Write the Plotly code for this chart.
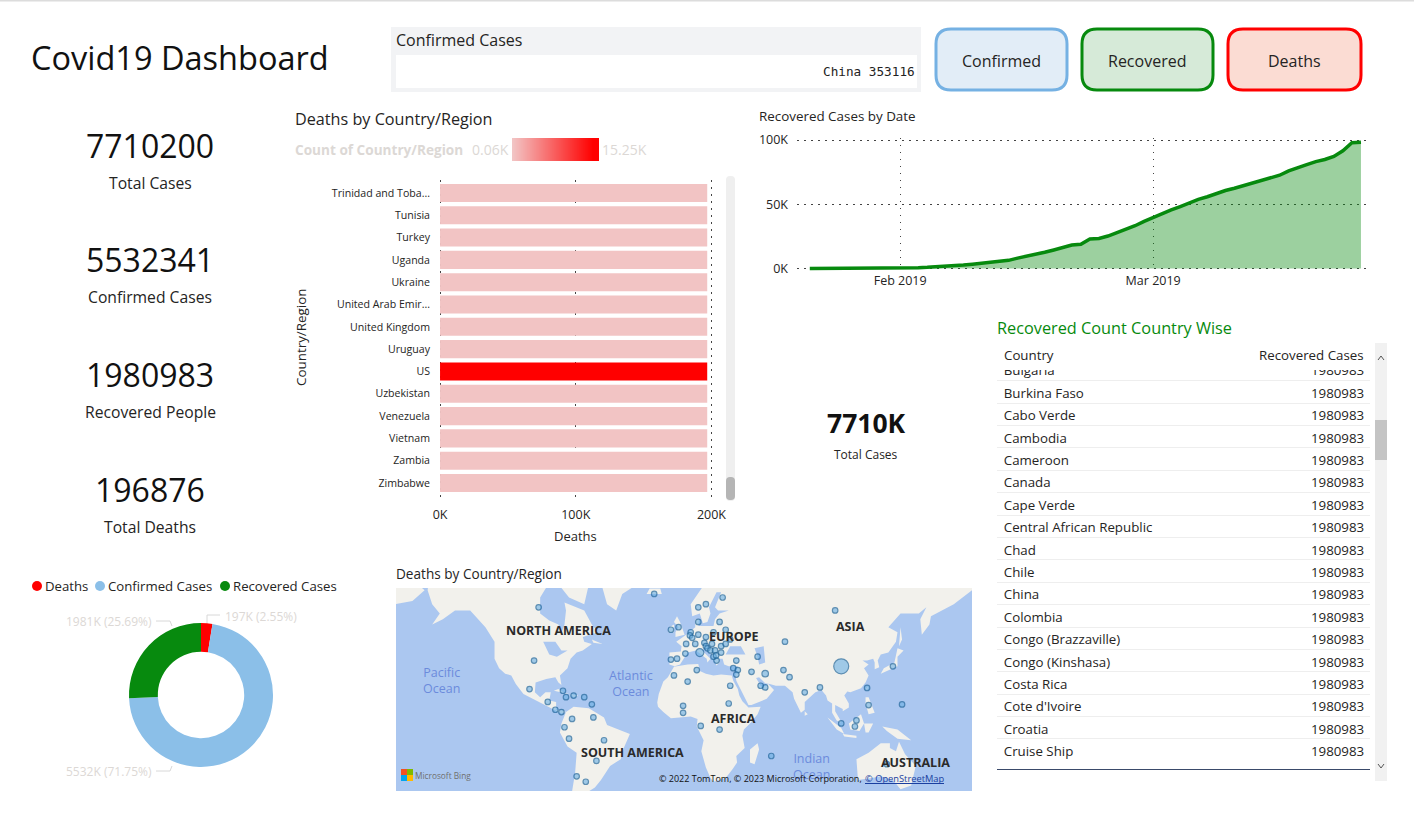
import numpy as np
import plotly.graph_objects as go

W, H = 1414, 816
FONT = "Open Sans"
DARK = "#252423"
FAINT = "#dcd8d5"

# ---------- data ----------
kpi_values = ["7710200", "5532341", "1980983", "196876"]
kpi_labels = ["Total Cases", "Confirmed Cases", "Recovered People", "Total Deaths"]

bar_countries = ["Trinidad and Toba...", "Tunisia", "Turkey", "Uganda", "Ukraine", "United Arab Emir...",
                 "United Kingdom", "Uruguay", "US", "Uzbekistan", "Venezuela", "Vietnam", "Zambia", "Zimbabwe"]
bar_deaths = [196876] * 14
highlight_country = "US"
legend_range = [0.06, 15.25]

rec_jan = [28, 30, 36, 39, 52, 61, 107, 126, 143, 222]
rec_feb = [284, 472, 623, 852, 1124, 1487, 2011, 2616, 3244, 3946, 4683, 5150, 6295, 8058, 9395, 10865,
           12583, 14352, 16121, 18177, 18890, 22886, 23394, 25227, 27905, 30384, 33277, 36711]
rec_mar = [39782, 42716, 45602, 48228, 51170, 53796, 55865, 58358, 60694, 62494, 64404, 67003,
           68324, 70251, 72624, 76034, 78088, 80840, 83207, 84854, 87256, 91675, 97882, 98351]
rec_dates = ([f"2019-01-{d:02d}" for d in range(22, 32)] + [f"2019-02-{d:02d}" for d in range(1, 29)]
             + [f"2019-03-{d:02d}" for d in range(1, 25)])
rec_values = rec_jan + rec_feb + rec_mar

pie_labels = ["Deaths", "Confirmed Cases", "Recovered Cases"]
pie_values = [196876, 5532341, 1980983]
pie_colors = ["#ff0000", "#8bbfe8", "#078a0e"]

table_countries = ["Bulgaria", "Burkina Faso", "Cabo Verde", "Cambodia", "Cameroon", "Canada", "Cape Verde",
                   "Central African Republic", "Chad", "Chile", "China", "Colombia", "Congo (Brazzaville)",
                   "Congo (Kinshasa)", "Costa Rica", "Cote d'Ivoire", "Croatia", "Cruise Ship"]
table_recovered = [1980983] * 18

map_lon = [-19, 10, 15, 26, 10, 24, -8, -3, 5, 4.5, 6, 10, 20, 15, 14, 19, 8, 2, 11, 15, 16, 18, 21, 25, 25, 31,
           28, 28, 22, 20, 21.7, -4, -8, 1.5, -6, 9, 3, 35, 49, 33, 36, 35, 45, 54, 31, 54, 51, 66, 70, 67, 100,
           80, 90, 121, 122, 144, 138, 104, 114, 113, 58, 134, 30, 0, 0, 11.6, 24, -101, -89, -79, -77, -72, -65,
           -60, -84, -80, -73, -59, -78, -75, -52, -57, -70, -64, -98, -95, 104]
map_lat = [65, 61, 62, 64, 56, 56, 53, 54, 52, 50.7, 49.7, 51, 52, 50, 47.5, 47, 47, 47, 43, 46, 45, 44, 44, 46,
           43, 49, 47, 53, 39, 41, 41.6, 40, 39.5, 42.5, 31, 34, 27.5, 39, 41, 35, 34, 31.5, 33, 32, 25, 24, 25,
           34, 30, 48, 60, 21, 24, 23.7, 13, 13.4, 36, 1, 3, -1, -20, -25, 14, 12.5, 8, -0.6, -3, 23, 15, 22, 18,
           19, 18, 13.5, 10, 8.5, 4, 5, -1.5, -9, -10, -23, -32, -35, 39, 61, 36]
map_size = [5.5] * 18 + [8] + [5.5] * 24 + [6.5] + [5.5] * 42 + [15]

land_polygons = [
    # North and Central America
    [(-168, 66), (-166, 72), (-130, 72), (-95, 72), (-88, 68), (-94, 64), (-94, 59), (-88, 56.5), (-82, 55), (-80, 51.5),
     (-78, 55), (-77, 60), (-78, 62.5), (-70, 61), (-65, 60), (-60, 55), (-56, 52), (-66, 50), (-65, 48), (-60, 47),
     (-66, 44), (-70, 43), (-74, 40), (-76, 35), (-81, 31), (-80, 25.5), (-82, 27), (-84, 30), (-90, 29), (-97, 27),
     (-97.5, 21), (-94, 18), (-90.5, 21), (-87, 21), (-88, 16), (-83.5, 15), (-83.5, 10), (-79, 9.5), (-77, 8.5), (-80, 7.5),
     (-85, 10), (-92, 14), (-97, 16), (-105, 20), (-110, 26), (-113, 31), (-117, 32), (-121, 35), (-124, 40), (-124, 48),
     (-130, 54), (-140, 60), (-150, 60), (-158, 57), (-165, 55), (-160, 59), (-165, 62)],
    [(-90, 73), (-62, 67.5), (-65, 62), (-75, 64), (-85, 69)],
    [(-56, 73), (-20, 73), (-24, 69), (-40, 65), (-44, 60), (-50, 62), (-54, 68)],
    [(-60, 49), (-53, 47), (-59, 47.5)],
    # South America
    [(-77, 8.5), (-72, 12), (-62, 11), (-52, 5), (-50, 0), (-44, -2.5), (-35, -6), (-39, -15), (-41, -22), (-48, -26), (-54, -34),
     (-58, -38), (-62, -40), (-66, -46), (-70, -46), (-73, -40), (-71, -30), (-70, -18), (-76, -14), (-81, -5), (-80, 1)],
    # Africa
    [(-17, 14.7), (-16, 20), (-13, 27.5), (-10, 30), (-6, 35.8), (3, 37), (10, 37.3), (11, 33.5), (15, 32), (20, 31), (25, 31.5),
     (32, 31), (33, 28), (36, 23), (37, 19), (39, 15.5), (43, 11.5), (51, 12), (49, 7), (44, 1), (40, -3), (39, -7), (40.5, -15),
     (35, -20), (35.5, -24), (32.5, -28), (28, -33), (20, -35), (18, -33), (15, -27), (12, -17), (13.5, -10), (9, -1), (9.5, 4),
     (5, 5.5), (-4, 5), (-8, 4.5), (-13, 8.5), (-16.5, 12)],
    # Eurasia
    [(190, 72), (190, 66), (178, 62), (170, 60), (163, 58), (162, 55), (157, 51), (156, 57), (160, 61), (155, 59), (143, 59),
     (135, 54), (141, 52), (140, 48), (135, 43), (130, 42), (128, 39), (129, 35.5), (126, 34.5), (126, 38), (125, 40), (121, 39),
     (118, 39), (122, 37), (119, 35), (122, 31), (120, 27), (117, 23.5), (110, 21), (108, 21.5), (106, 19), (109, 14), (109, 11.5),
     (105, 9), (105, 10.5), (100, 13), (100, 9), (103, 4), (104, 1.5), (101, 3), (98, 8), (98, 14), (95, 16), (94, 19), (91, 22.5),
     (87, 21), (80, 15), (80, 10), (77.5, 8), (73, 17), (72, 21), (67, 25), (61, 25), (57, 26), (54, 26.5), (50, 30), (48, 29.5),
     (51, 25), (52, 24), (56, 26), (59.8, 22.5), (55, 17), (45, 13), (43, 13), (39, 21), (35, 28), (34.5, 31), (36, 36), (30, 36),
     (27, 37), (26, 40), (23.5, 40), (24, 38), (22, 36.5), (19.5, 41), (19, 42), (14, 45), (12.5, 44), (18, 40), (16, 38), (15.5, 40),
     (12, 42), (8.5, 44), (3, 43), (0, 39.5), (-2, 37), (-5.5, 36), (-9, 37), (-9, 43), (-1.5, 43.5), (-1, 46), (-4.5, 48), (2, 51),
     (4, 52), (8, 54), (8, 57), (10.5, 57), (10, 54.5), (20, 54.5), (21, 57), (24, 59), (30, 60), (23, 60), (21, 61), (25, 65.5),
     (22, 65.5), (17, 61), (18, 59), (16, 56), (13, 55.5), (11, 59), (6, 58), (5, 62), (13, 67), (15, 68.5), (30, 72)],
    [(-5, 50), (1, 51), (-2, 56), (-4, 58), (-6, 56), (-3, 54), (-5, 52)],
    [(-10, 52), (-6, 52), (-6, 55), (-9, 54)],
    [(-24, 65), (-14, 65), (-15, 66.5), (-22, 66.5)],
    [(130, 32), (136, 34), (141, 36), (141, 41), (145, 44), (141, 45), (139, 38), (132, 35)],
    [(44, -16), (49, -12), (50, -16), (47, -25), (44, -24)],
    [(114, -22), (122, -18), (130, -12), (136, -12), (136, -15), (140, -17), (142, -11), (146, -19), (153, -26), (150, -37),
     (143, -39), (138, -34), (130, -32), (124, -33), (115, -34)],
    [(95, 5), (104, -2), (106, -6), (101, -3)],
    [(109, 1), (117, 7), (119, 1), (116, -4), (110, -3)],
    [(105, -6), (114, -7), (114, -8.5), (106, -7.5)],
    [(119, 1), (125, 1), (122, -5), (120, -5)],
    [(131, -1), (141, -3), (150, -10), (141, -9), (134, -4)],
    [(120, 18), (122, 18), (126, 8), (122, 7), (120, 14)],
    [(-85, 22), (-75, 20), (-77, 20), (-82, 23)],
    [(-74, 20), (-69, 19), (-72, 18)],
    [(80, 9), (82, 7), (80, 6)],
    [(120, 23), (122, 25), (121, 22)],
    [(142, 46), (143, 54), (144, 49)],
    [(-189, 72), (-170, 66), (-178, 63), (-189, 62)],
]
water_polygons = [
    [(28, 42), (31, 46), (38, 46), (41, 42), (34, 42)],
    [(47, 45), (53, 46), (54, 38), (50, 37), (49, 41)],
    [(-92, 48), (-84, 48), (-80, 44), (-76, 44), (-83, 41), (-88, 42)],
]


def merc(lat):
    return np.log(np.tan(np.pi / 4 + np.radians(lat) / 2))


def poly_xy(polys):
    xs, ys = [], []
    for p in polys:
        pts = p + [p[0]]
        xs += [q[0] for q in pts] + [None]
        ys += [float(merc(q[1])) for q in pts] + [None]
    return xs, ys


# ---------- helpers: page pixels to paper fractions ----------
def px(x):
    return x / W


def py(y):
    return 1 - y / H


annotations, shapes = [], []


def text(x, y, s, size=13, color=DARK, anchor="left", family=FONT, **kw):
    nudge = {"left": -1, "right": 1, "center": 0}[anchor]
    annotations.append(dict(x=px(x + nudge), y=py(y), xref="paper", yref="paper", text=s, showarrow=False,
                            xanchor=anchor, yanchor="middle", font=dict(size=size, color=color, family=family),
                            borderpad=0, **kw))


def rect(x0, y0, x1, y1, fill, line=None, lw=0, layer="below"):
    shapes.append(dict(type="rect", xref="paper", yref="paper", x0=px(x0), x1=px(x1), y0=py(y0), y1=py(y1),
                       fillcolor=fill, line=dict(color=line or fill, width=lw), layer=layer))


def rrect(x0, y0, x1, y1, r, fill, line, lw=3, layer="below"):
    a, b, c, d = px(x0), px(x1), py(y0), py(y1)
    rx, ry = r / W, r / H
    path = (f"M{a + rx},{c} L{b - rx},{c} Q{b},{c} {b},{c - ry} L{b},{d + ry} Q{b},{d} {b - rx},{d} "
            f"L{a + rx},{d} Q{a},{d} {a},{d + ry} L{a},{c - ry} Q{a},{c} {a + rx},{c} Z")
    shapes.append(dict(type="path", path=path, xref="paper", yref="paper", fillcolor=fill,
                       line=dict(color=line, width=lw), layer=layer))


def seg(pts, color="#d8d8d8", width=1, layer="below"):
    path = "M" + " L".join(f"{px(x)},{py(y)}" for x, y in pts)
    shapes.append(dict(type="path", path=path, xref="paper", yref="paper", line=dict(color=color, width=width), layer=layer))


def dom_x(a, b):
    return [px(a), px(b)]


def dom_y(top, bottom):
    return [py(bottom), py(top)]


DOT = "1.5px,5.5px"
GRID = "#444444"
fig = go.Figure()

# header
rect(0, 0, W, 1.5, "#dcdcdc")
text(31, 58, "Covid19 Dashboard", size=32.5, color="#111111")
rect(391, 27, 921, 92, "#f2f3f5")
rect(396, 55, 917, 88, "#ffffff")
text(396, 40, "Confirmed Cases", size=16)
text(915, 71, "China 353116", size=12.7, anchor="right", family="DejaVu Sans Mono", color="#222222")
rrect(936, 29, 1067, 90, 15, "#e2edf7", "#75b1e3")
rrect(1082, 29, 1213, 90, 15, "#d6ead8", "#078a0e")
rrect(1228, 29, 1361, 90, 15, "#fbdcd3", "#ff0000")
text(1001, 61, "Confirmed", size=16, anchor="center")
text(1147, 61, "Recovered", size=16, anchor="center")
text(1294, 61, "Deaths", size=16, anchor="center")

# KPIs
for v, l, yv, yl in zip(kpi_values, kpi_labels, [146, 260, 375, 490], [183, 297, 412, 527]):
    text(150, yv - 0.5, v, size=32, color="#111111", anchor="center")
    text(150, yl, l, size=15.7, anchor="center")
text(866, 423, "<b>7710K</b>", size=26.5, color="#111111", anchor="center")
text(866, 454, "Total Cases", size=12, anchor="center")

# horizontal bars
fig.add_trace(go.Bar(y=bar_countries, x=bar_deaths, orientation="h", xaxis="x", yaxis="y", width=0.81, showlegend=False,
                     marker=dict(color=["#ff0000" if c == highlight_country else "#f2c4c4" for c in bar_countries], line=dict(width=0))))
text(295, 119, "Deaths by Country/Region", size=16.2)
text(295, 149, "<b>Count of Country/Region</b>", size=13.6, color=FAINT)
text(509, 149, "0.06K", size=14, color=FAINT, anchor="right")
text(602, 149, "15.25K", size=14, color=FAINT)
fig.add_trace(go.Heatmap(z=[legend_range], xaxis="x5", yaxis="y5", zsmooth="best", showscale=False,
                         colorscale=[[0, "#f2c4c4"], [0.92, "#ff0000"], [1, "#ff0000"]]))
text(301, 338, "Country/Region", size=13.4, anchor="center", textangle=-90)
text(575, 536, "Deaths", size=13, anchor="center")
rrect(726, 176, 735, 501, 4, "#efefef", "#efefef", lw=0)
rrect(726, 477, 735, 500, 4, "#b5b5b5", "#b5b5b5", lw=0)

# recovered area
fig.add_trace(go.Scatter(x=rec_dates, y=rec_values, xaxis="x2", yaxis="y2", mode="lines", fill="tozeroy", showlegend=False,
                         cliponaxis=False, fillcolor="rgba(7,138,14,0.4)", line=dict(color="#078a0e", width=3.5)))
text(759, 116, "Recovered Cases by Date", size=13.4)

# map
rect(396, 588, 972, 791, "#abc7f0")
land_x, land_y = poly_xy(land_polygons)
water_x, water_y = poly_xy(water_polygons)
fig.add_trace(go.Scatter(x=land_x, y=land_y, xaxis="x3", yaxis="y3", mode="lines",
                         fill="toself", fillcolor="#f2f1ec", line=dict(width=0), showlegend=False, hoverinfo="skip"))
fig.add_trace(go.Scatter(x=water_x, y=water_y, xaxis="x3", yaxis="y3", mode="lines",
                         fill="toself", fillcolor="#abc7f0", line=dict(width=0), showlegend=False, hoverinfo="skip"))
fig.add_trace(go.Scatter(x=map_lon, y=[float(merc(v)) for v in map_lat], xaxis="x3", yaxis="y3", mode="markers", showlegend=False,
                         marker=dict(size=map_size, color="rgba(105,175,228,0.85)", line=dict(color="#1f659a", width=1.2))))
text(396, 573.5, "Deaths by Country/Region", size=13.6)
for s, x, y in [("NORTH AMERICA", 558, 630), ("EUROPE", 734, 636), ("ASIA", 850, 626), ("AFRICA", 733, 718),
                ("SOUTH AMERICA", 632, 752), ("AUSTRALIA", 915, 762)]:
    text(x, y, f"<b>{s}</b>", size=12.5, color="#2a2a2a", anchor="center")
for s, x, y in [("Pacific<br>Ocean", 441, 680), ("Atlantic<br>Ocean", 631, 683), ("Indian<br>Ocean", 812, 766)]:
    text(x, y, s, size=12.5, color="#6b8bdc", anchor="center")
for (x0, y0), c in zip([(401, 769), (407, 769), (401, 775), (407, 775)], ["#f25022", "#7fba00", "#00a4ef", "#ffb900"]):
    rect(x0, y0, x0 + 6, y0 + 6, c, layer="above")
text(415, 775, "Microsoft Bing", size=8.3, color="#6f6f6f")
text(659, 778, "© 2022 TomTom, © 2023 Microsoft Corporation,", size=9, color="#111111")
text(944, 778, "© OpenStreetMap", size=9.3, color="#1a3fa0", anchor="right")
seg([(865, 783.5), (944, 783.5)], color="#1a3fa0", layer="above")

# donut
fig.add_trace(go.Pie(labels=pie_labels, values=pie_values, hole=0.6, sort=False, direction="clockwise", rotation=0,
                     textinfo="none", showlegend=False, marker=dict(colors=pie_colors, line=dict(width=0)),
                     domain=dict(x=dom_x(129, 273), y=dom_y(623, 767))))
for x, lab, c in [(37, "Deaths", pie_colors[0]), (100, "Confirmed Cases", pie_colors[1]), (225, "Recovered Cases", pie_colors[2])]:
    shapes.append(dict(type="circle", xref="paper", yref="paper", x0=px(x - 5), x1=px(x + 5), y0=py(591), y1=py(581),
                       fillcolor=c, line=dict(width=0)))
    text(x + 8, 586, lab, size=13.2)
text(225, 616, "197K (2.55%)", size=12, color=FAINT)
text(152, 621, "1981K (25.69%)", size=12, color=FAINT, anchor="right")
text(152, 771, "5532K (71.75%)", size=12, color=FAINT, anchor="right")
seg([(207, 624), (207, 615), (220, 615)])
seg([(156, 621), (170, 621), (172, 626)])
seg([(156, 771), (170, 771), (172, 766)])

# table
text(997, 328, "Recovered Count Country Wise", size=16.3, color="#078a0e")
text(1004, 355, "Country", size=13.3)
text(1364, 355, "Recovered Cases", size=13.3, anchor="right")
rows = list(range(len(table_countries)))
row_text_y = [r + 0.07 for r in rows]
fig.add_trace(go.Scatter(x=[0.0] * len(rows), y=row_text_y, text=table_countries, xaxis="x4", yaxis="y4", mode="text", showlegend=False,
                         textposition="middle right", textfont=dict(size=13.3, color=DARK, family=FONT), hoverinfo="skip"))
fig.add_trace(go.Scatter(x=[1.0] * len(rows), y=row_text_y, text=[str(v) for v in table_recovered], xaxis="x4", yaxis="y4", mode="text",
                         showlegend=False, textposition="middle left", textfont=dict(size=13.3, color=DARK, family=FONT), hoverinfo="skip"))
seg([(997, 769.5), (1370, 769.5)], color="#3a4a6a")
rect(1375, 343, 1387, 781, "#f1f1f1")
rect(1375, 420, 1387, 460, "#c4c4c4")
seg([(1378, 360), (1381, 356), (1384, 360)], color="#555555")
seg([(1378, 764), (1381, 768), (1384, 764)], color="#555555")

axis_font = dict(size=12.5, color=DARK, family=FONT)
# a little headroom keeps plotly from dropping the gridlines at the ends of each axis
bar_pad, area_pad = 1500, 2000
fig.update_layout(
    width=W, height=H, margin=dict(l=0, r=0, t=0, b=0), paper_bgcolor="#ffffff", plot_bgcolor="rgba(0,0,0,0)",
    font=dict(family=FONT), annotations=annotations, shapes=shapes, showlegend=False, barmode="overlay",
    modebar=dict(bgcolor="rgba(0,0,0,0)", color="rgba(0,0,0,0)", activecolor="rgba(0,0,0,0)"),
    xaxis=dict(domain=dom_x(438, 713.5), range=[-bar_pad, 200000 + bar_pad], tickvals=[0, 100000, 200000], ticktext=["0K", "100K", "200K"], anchor="y",
               automargin=False, showgrid=True, griddash=DOT, gridcolor=GRID, zeroline=False, showline=False, tickfont=axis_font, ticks="", ticklabelstandoff=3),
    yaxis=dict(domain=dom_y(180, 502), type="category", categoryorder="array", categoryarray=bar_countries, range=[13.85, -0.58],
               automargin=False, anchor="x", showgrid=False, zeroline=False, showline=False, ticks="", ticklabelstandoff=7, tickfont=dict(size=10.6, color=DARK, family=FONT)),
    xaxis2=dict(domain=dom_x(797, 1370), type="date", range=["2019-01-20 14:00", "2019-03-25"], tickvals=["2019-02-01", "2019-03-01"], automargin=False,
                ticktext=["Feb 2019", "Mar 2019"], anchor="y2", showgrid=True, griddash=DOT, gridcolor=GRID, zeroline=False, tickfont=axis_font, ticks=""),
    yaxis2=dict(domain=dom_y(137.5, 271), range=[-area_pad, 100000 + area_pad], tickvals=[0, 50000, 100000], ticktext=["0K", "50K", "100K"], anchor="x2", automargin=False,
                showgrid=True, griddash=DOT, gridcolor=GRID, zeroline=False, tickfont=axis_font, ticks="", ticklabelstandoff=8),
    xaxis3=dict(domain=dom_x(396, 972), range=[-188.8, 190], anchor="y3", visible=False, automargin=False),
    yaxis3=dict(domain=dom_y(588, 791), range=[-0.759, 1.575], anchor="x3", visible=False, automargin=False),
    xaxis4=dict(domain=dom_x(997, 1370), range=[-0.0188, 1.0161], anchor="y4", visible=False, automargin=False),
    yaxis4=dict(domain=dom_y(370, 769), range=[17.79, -0.027], anchor="x4", showticklabels=False, zeroline=False, showline=False, ticks="", automargin=False,
                tickvals=[r + 0.45 for r in rows[:-1]], showgrid=True, gridcolor="#eeeeee"),
    xaxis5=dict(domain=dom_x(512, 599), range=[0, 1], anchor="y5", visible=False, automargin=False),
    yaxis5=dict(domain=dom_y(138, 161), anchor="x5", visible=False, automargin=False),
)
fig.write_html("out.html", config={"displayModeBar": False},
               post_script="document.body.style.margin='0';document.documentElement.style.overflow='hidden';")
